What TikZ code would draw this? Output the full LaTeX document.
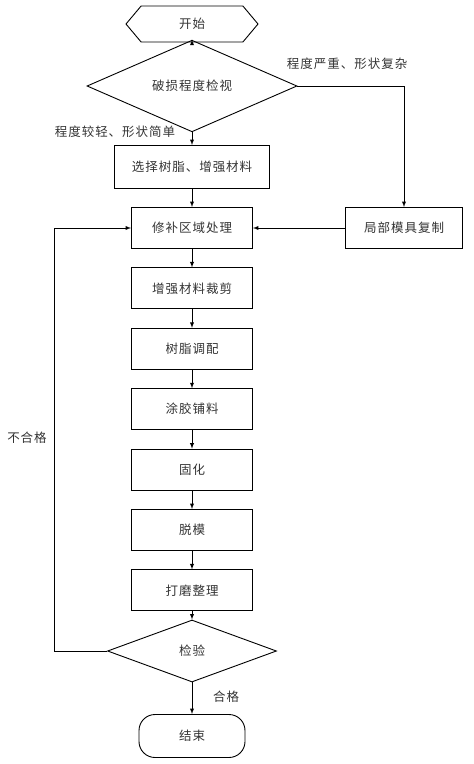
\documentclass[tikz,border=0pt]{standalone}
\usepackage{fontspec}
\newfontfamily\cjk[LetterSpace=8]{Noto Sans CJK SC}
\usetikzlibrary{arrows,shapes.geometric,shapes.symbols,positioning}

\begin{document}
\begin{tikzpicture}[x=1pt,y=-1pt]
\tikzstyle{every node}=[font=\cjk\fontsize{12.5}{14}\selectfont, text=black!80, inner sep=0pt]
\tikzstyle{box}=[rectangle, draw=black, line width=0.9pt, minimum width=121pt, minimum height=41pt]
\tikzstyle{decide}=[diamond, draw=black, line width=0.9pt, minimum width=210pt, minimum height=60pt]
\tikzstyle{hexa}=[signal, signal to=west and east, signal pointer angle=100, draw=black, line width=0.9pt, minimum width=132pt, minimum height=36pt]
\tikzstyle{stop}=[box, rounded corners=16pt, minimum width=106pt, minimum height=43pt]
\tikzstyle{line}=[draw, line width=0.9pt, -latex]
\useasboundingbox (0,0) rectangle (474,764);
\node[hexa] (start) at (192,24) {开始};
\node[decide] (check) at (192,86) {破损程度检视};
\node[box, minimum width=155pt, minimum height=43pt] (select) at (192,167) {选择树脂、增强材料};
\node[box] (repair) at (192,228) {修补区域处理};
\node[box, below=18.5pt of repair] (cut) {增强材料裁剪};
\node[box, below=18.5pt of cut] (resin) {树脂调配};
\node[box, below=18.5pt of resin] (lay) {涂胶铺料};
\node[box, below=18.5pt of lay] (cure) {固化};
\node[box, below=18.5pt of cure] (demould) {脱模};
\node[box, below=18.5pt of demould] (polish) {打磨整理};
\node[decide, minimum width=169pt, minimum height=62pt] (test) at (192,651) {检验};
\node[stop] (end) at (192,736) {结束};
\node[box, minimum width=117pt] (mould) at (404,228) {局部模具复制};
\node (severe) at (347,64) {程度严重、形状复杂};
\node (slight) at (115,132) {程度较轻、形状简单};
\node (fail) at (27,438) {不合格};
\node (pass) at (226,697) {合格};
\coordinate (loop) at (54,651);
\draw[line] (start) -- (check);
\draw[line] (check) -- (select);
\draw[line] (select) -- (repair);
\draw[line] (repair) -- (cut);
\draw[line] (cut) -- (resin);
\draw[line] (resin) -- (lay);
\draw[line] (lay) -- (cure);
\draw[line] (cure) -- (demould);
\draw[line] (demould) -- (polish);
\draw[line] (polish) -- (test);
\draw[line] (test) -- (end);
\draw[line] (check.east) -| (mould.north);
\draw[line] (mould) -- (repair);
\draw[line] (test.west) -- (loop) |- (repair.west);
\end{tikzpicture}
\end{document}
